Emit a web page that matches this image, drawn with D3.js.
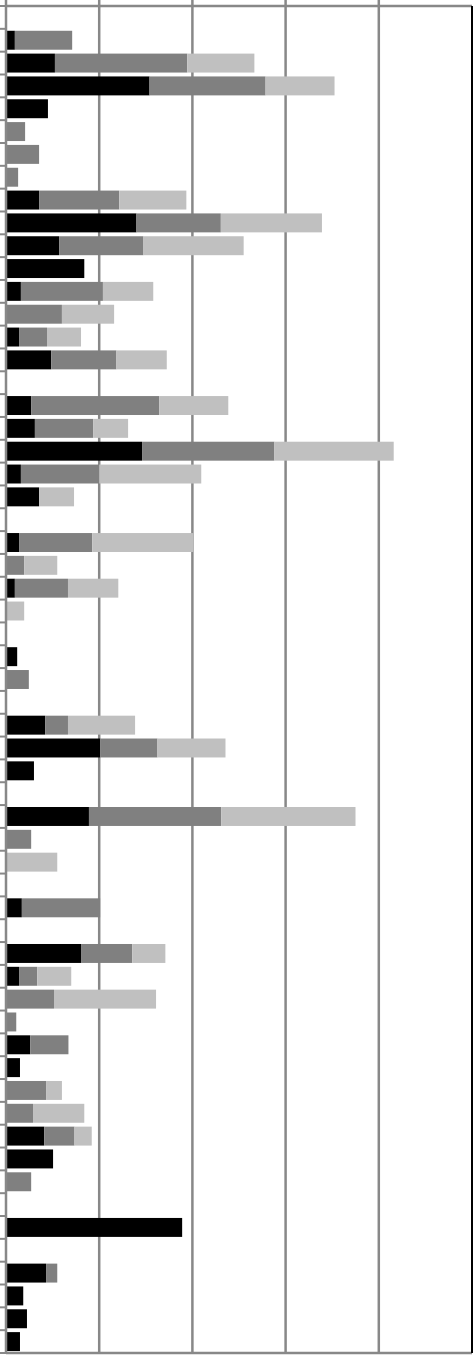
<!DOCTYPE html><html><head><script src="https://d3js.org/d3.v7.min.js"></script>
<style>body{margin:0;background:#fff}</style></head><body><svg id="c" width="473" height="1355"></svg>
<script>
const categories = d3.range(59).map(i => "R" + i);
const s1 = [0,1.9,10.5,30.8,9.0,0,0,0,7.1,28.0,11.4,16.8,3.2,0,2.8,9.7,0,5.4,6.2,29.2,3.2,7.1,0,2.8,0,1.9,0,0,2.4,0,0,8.4,20.2,6.0,0,17.8,0,0,0,3.4,0,16.1,2.8,0,0,5.2,3.0,0,0,8.2,10.1,0,0,37.8,0,8.6,3.7,4.5,3.0];
const s2 = [0,12.3,28.4,24.9,0,4.1,7.1,2.6,17.2,18.1,18.1,0,17.6,12.0,6.0,14.0,0,27.5,12.5,28.4,16.8,0,0,15.7,3.9,11.4,0,0,0,4.9,0,4.9,12.3,0,0,28.4,5.4,0,0,16.8,0,11.0,3.9,10.3,2.2,8.2,0,8.6,5.8,6.5,0,5.4,0,0,0,2.4,0,0,0];
const s3 = [0,0,14.4,14.8,0,0,0,0,14.4,21.7,21.5,0,10.8,11.2,7.3,10.8,0,14.8,7.5,25.6,21.9,7.5,0,21.7,7.1,10.8,3.9,0,0,0,0,14.4,14.6,0,0,28.8,0,11.0,0,0,0,7.1,7.3,21.9,0,0,0,3.4,11.0,3.7,0,0,0,0,0,0,0,0,0];
const xTicks = [0,20,40,60,80,100];
const colors = ["#000000","#808080","#c0c0c0"];
const svg = d3.select("#c");
const L=6,R=472,T=6,B=1353;
const x = d3.scaleLinear().domain([0,100]).range([L,R]);
const y = d3.scaleBand().domain(categories).range([T,B]).paddingInner(0.17).paddingOuter(0.085);
const grid = svg.append("g");
grid.selectAll("line").data(xTicks.slice(1,5)).join("line")
  .attr("x1",d=>x(d)).attr("x2",d=>x(d)).attr("y1",T-6).attr("y2",B)
  .attr("stroke","#888").attr("stroke-width",2.5);
svg.append("line").attr("x1",L).attr("x2",R).attr("y1",T).attr("y2",T).attr("stroke","#888").attr("stroke-width",2.5);
svg.append("line").attr("x1",L).attr("x2",R).attr("y1",B).attr("y2",B).attr("stroke","#888").attr("stroke-width",2.5);
svg.append("line").attr("x1",R).attr("x2",R).attr("y1",T).attr("y2",B).attr("stroke","#000").attr("stroke-width",2);
const data = categories.map((c,i)=>({c,a:s1[i],b:s2[i],d:s3[i]}));
const stacked = d3.stack().keys(["a","b","d"])(data);
svg.selectAll("g.s").data(stacked).join("g").attr("class","s").attr("fill",(d,i)=>colors[i])
  .selectAll("rect").data(d=>d).join("rect")
  .attr("x",d=>x(d[0])).attr("width",d=>x(d[1])-x(d[0]))
  .attr("y",d=>y(d.data.c)).attr("height",y.bandwidth());
const ax = svg.append("g").attr("transform",`translate(${L},0)`);
ax.append("line").attr("x1",0).attr("x2",0).attr("y1",0).attr("y2",B).attr("stroke","#888").attr("stroke-width",2.5);
ax.selectAll("line.t").data(d3.range(60)).join("line").attr("class","t")
  .attr("x1",-6).attr("x2",0).attr("y1",i=>T+i*y.step()*1).attr("y2",i=>T+i*y.step())
  .attr("stroke","#888").attr("stroke-width",2);
</script></body></html>
